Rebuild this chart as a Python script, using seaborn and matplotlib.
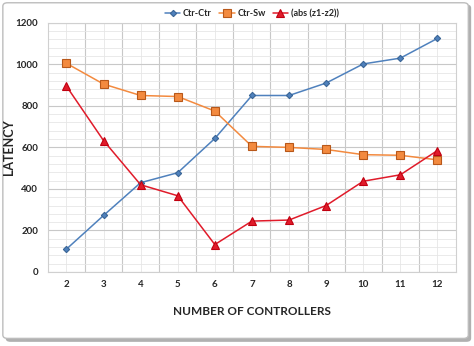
import matplotlib
matplotlib.use("Agg")
import matplotlib.pyplot as plt
import seaborn as sns
import pandas as pd
from matplotlib.patches import FancyBboxPatch
from matplotlib.ticker import MultipleLocator

controllers = [2, 3, 4, 5, 6, 7, 8, 9, 10, 11, 12]
ctr_ctr = [110, 272, 430, 478, 643, 850, 850, 910, 1002, 1030, 1125]
ctr_sw = [1005, 905, 850, 845, 775, 605, 600, 590, 565, 562, 540]
abs_diff = [895, 633, 420, 367, 132, 245, 250, 320, 437, 468, 585]
series_names = ["Ctr-Ctr", "Ctr-Sw", "(abs (z1-z2))"]
y_ticks = [0, 200, 400, 600, 800, 1000, 1200]

df = pd.DataFrame({
    "x": controllers * 3,
    "y": ctr_ctr + ctr_sw + abs_diff,
    "series": [series_names[0]] * 11 + [series_names[1]] * 11 + [series_names[2]] * 11,
})

sns.set_style("white")
plt.rcParams["font.family"] = ["Lato", "DejaVu Sans"]

fig = plt.figure(figsize=(4.74, 3.46), dpi=100)
# frame with shadow
shadow = FancyBboxPatch((0.012, 0.012), 0.982, 0.975, boxstyle="round,pad=0,rounding_size=0.01",
                        transform=fig.transFigure, facecolor="#b0b0b0", edgecolor="none", zorder=-3)
frame = FancyBboxPatch((0.006, 0.022), 0.982, 0.97, boxstyle="round,pad=0,rounding_size=0.01",
                       transform=fig.transFigure, facecolor="white", edgecolor="#bdbdbd", linewidth=1.0, zorder=-2)
fig.patches.extend([shadow, frame])

ax = fig.add_axes([0.101, 0.214, 0.861, 0.72])
ax.set_facecolor("white")

palette = {series_names[0]: "#4f81bd", series_names[1]: "#f38a3f", series_names[2]: "#e01b2a"}
markers = {series_names[0]: "D", series_names[1]: "s", series_names[2]: "^"}
sns.lineplot(data=df, x="x", y="y", hue="series", style="series", palette=palette,
             markers=markers, dashes=False, ax=ax, linewidth=1.1, legend=True,
             markersize=5, markeredgewidth=0.8, zorder=3)
edge = {series_names[0]: "#3a6596", series_names[1]: "#b8581a", series_names[2]: "#c00010"}
sizes = {series_names[0]: 3.2, series_names[1]: 5.5, series_names[2]: 5.5}
for line, name in zip(ax.lines[:3], series_names):
    line.set_markeredgecolor(edge[name])
    line.set_markersize(sizes[name])

ax.set_xlim(1.5, 12.5)
ax.set_ylim(0, 1200)
ax.set_xticks(controllers)
ax.set_xticklabels([str(c) for c in controllers], fontsize=7, fontweight="bold")
ax.set_yticks(y_ticks)
ax.set_yticklabels([str(v) for v in y_ticks], fontsize=7, fontweight="bold")
ax.yaxis.set_minor_locator(MultipleLocator(40))
ax.set_xticks([c + 0.5 for c in controllers[:-1]], minor=True)
ax.tick_params(which="both", length=0)
ax.tick_params(axis="x", pad=6)
ax.tick_params(axis="y", pad=7)
ax.grid(which="major", axis="y", color="#c8c8c8", linewidth=0.8)
ax.grid(which="minor", axis="y", color="#e6e6e6", linewidth=0.6)
ax.grid(which="minor", axis="x", color="#c8c8c8", linewidth=0.8)
ax.grid(which="major", axis="x", color="#e6e6e6", linewidth=0.6)
ax.set_axisbelow(True)
for s in ax.spines.values():
    s.set_color("#d0d0d0")
    s.set_linewidth(0.8)

ax.set_xlabel("NUMBER OF CONTROLLERS", fontsize=8.5, fontweight="bold", labelpad=6)
ax.set_ylabel("LATENCY", fontsize=9, fontweight="bold")
ax.yaxis.set_label_coords(-0.08, 0.5)
ax.xaxis.set_label_coords(0.5, -0.135)

handles, labels = ax.get_legend_handles_labels()
for h, lab in zip(handles, labels):
    if lab in edge:
        h.set_markeredgecolor(edge[lab])
        h.set_markersize(sizes[lab])
ax.legend(handles, labels, loc="lower center", bbox_to_anchor=(0.5, 1.0), ncol=3, frameon=False,
          handlelength=1.7, handletextpad=0.3, columnspacing=0.8, borderaxespad=0.1,
          prop={"weight": "bold", "size": 6.5})

fig.savefig("out.png", dpi=100)
